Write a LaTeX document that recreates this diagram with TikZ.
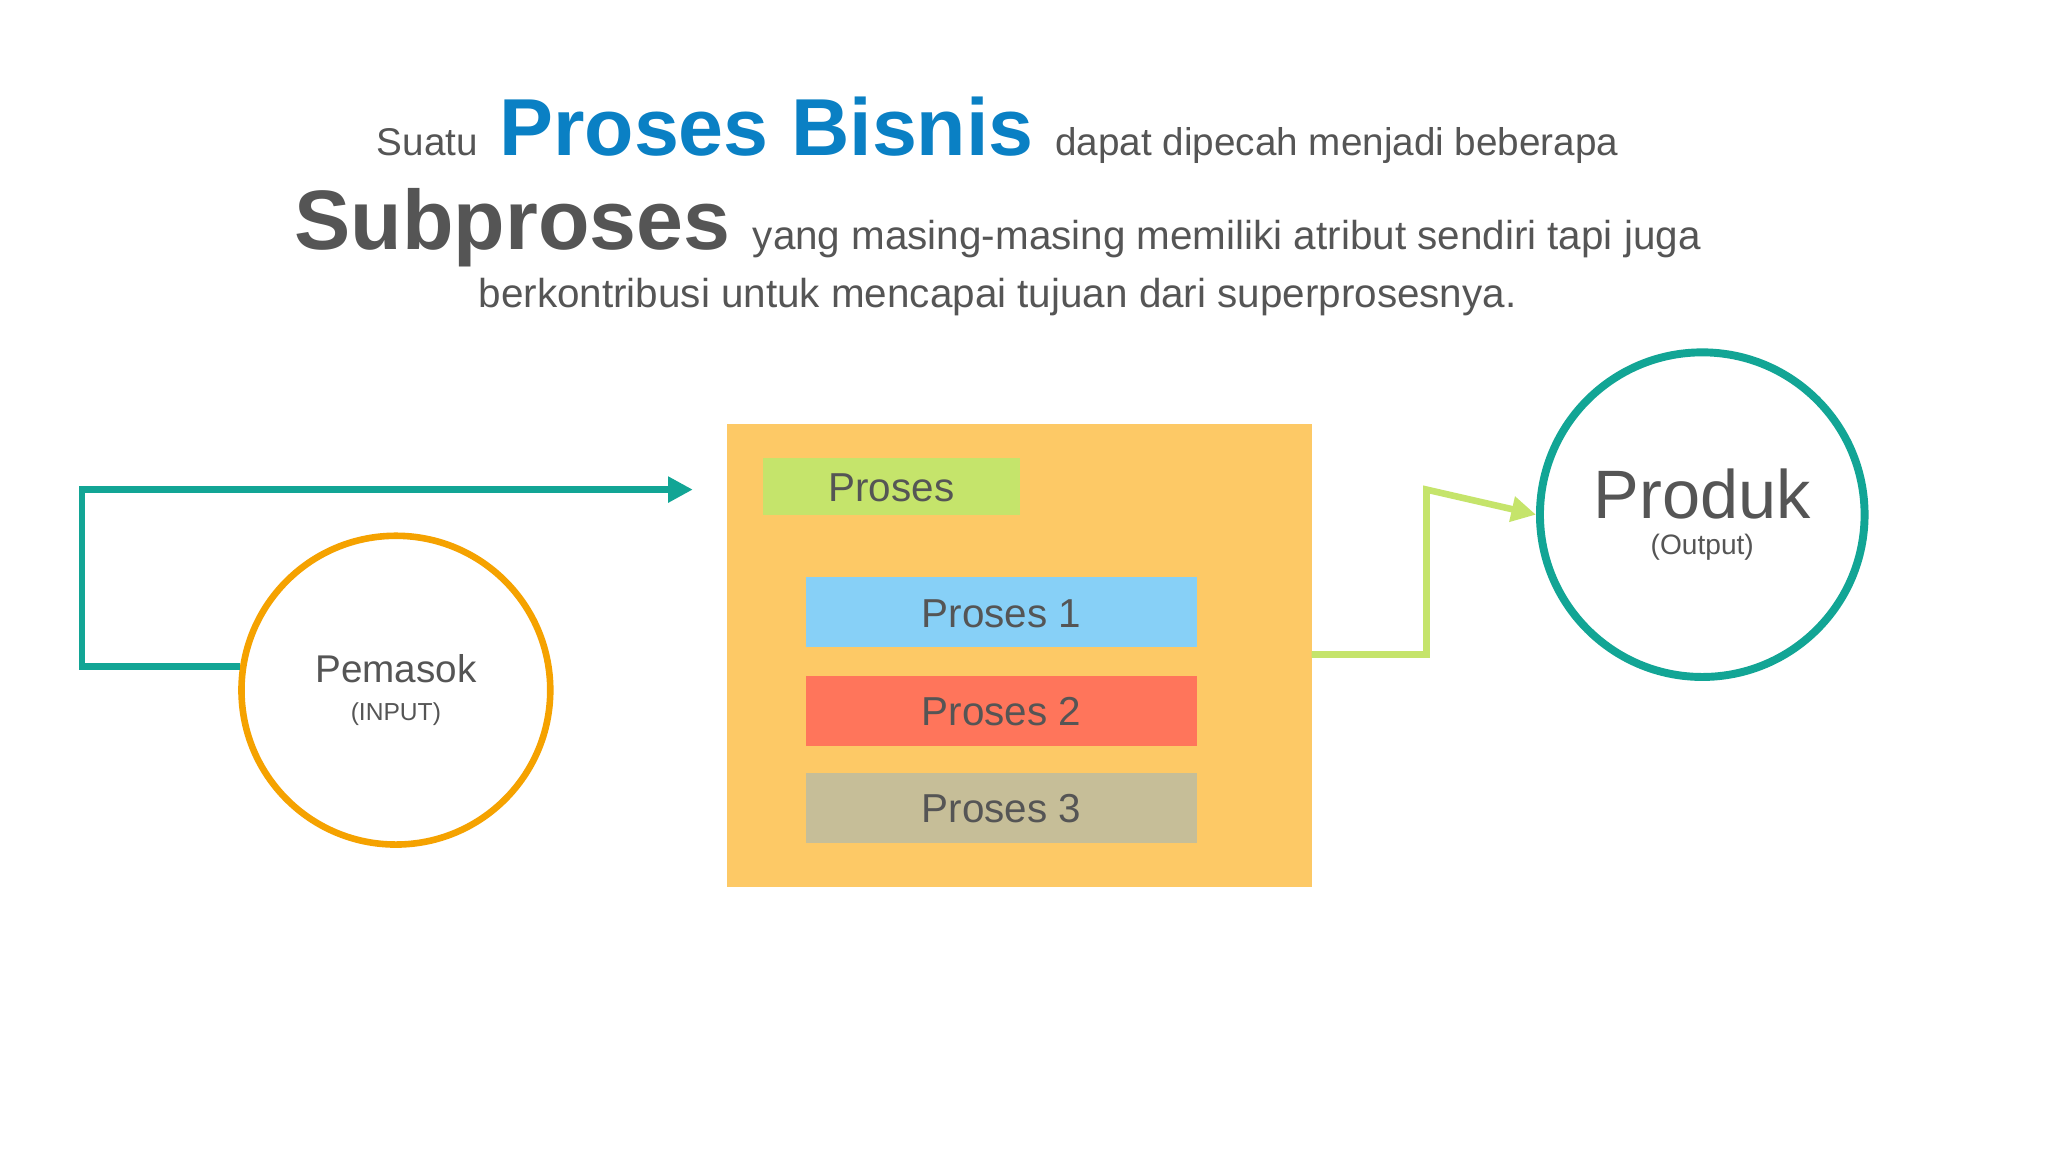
\documentclass[tikz,border=0pt]{standalone}
\usepackage{fontspec}
\setmainfont{Liberation Sans}
\usetikzlibrary{arrows.meta}
\definecolor{txt}{HTML}{555555}
\definecolor{blu}{HTML}{0A80C4}
\definecolor{boxo}{HTML}{FDC966}
\definecolor{grn}{HTML}{C5E46B}
\definecolor{p1}{HTML}{87D0F7}
\definecolor{p2}{HTML}{FF755B}
\definecolor{p3}{HTML}{C6BE98}
\definecolor{org}{HTML}{F5A200}
\definecolor{teal}{HTML}{12A595}
\begin{document}
\begin{tikzpicture}[x=0.013196cm,y=-0.013196cm,
  lbl/.style={text=txt,font=\fontsize{11.5}{13}\selectfont},
  pbox/.style={draw=none,inner sep=0,lbl}]
\useasboundingbox[fill=white] (0,0) rectangle (1552,873);
\node[anchor=base,text=txt,font=\fontsize{11}{13}\selectfont] (l1) at (756,118)
 {Suatu\ \ {\fontsize{23}{26}\selectfont\bfseries\color{blu}Proses Bisnis}\ \ dapat dipecah menjadi beberapa};
\node[anchor=base,text=txt,font=\fontsize{11.5}{13}\selectfont] (l2) at (756,189)
 {{\fontsize{24}{27}\selectfont\bfseries Subproses}\ \ yang masing-masing memiliki atribut sendiri tapi juga};
\node[anchor=base,text=txt,font=\fontsize{11.5}{13}\selectfont] (l3) at (756,233)
 {berkontribusi untuk mencapai tujuan dari superprosesnya.};
\fill[boxo] (551,321) rectangle (994,672);
\coordinate (boxR) at (994,496);
\fill[grn] (578,347) rectangle (773,390);
\node[lbl] (pr) at (675.5,370) {Proses};
\fill[p1] (611,437) rectangle (907,490); \node[lbl] (pr1) at (759,465) {Proses 1};
\fill[p2] (611,512) rectangle (907,565); \node[lbl] (pr2) at (759,539) {Proses 2};
\fill[p3] (611,586) rectangle (907,639); \node[lbl] (pr3) at (759,613) {Proses 3};
\node[circle,draw=org,line width=5*0.013196cm,minimum size=234*0.013196cm,inner sep=0,align=center] (pem) at (300,523)
 {\color{txt}\fontsize{11}{13}\selectfont Pemasok\\[-1pt]\color{txt}\fontsize{7}{9}\selectfont (INPUT)};
\node[circle,draw=teal,line width=6*0.013196cm,minimum size=246*0.013196cm,inner sep=0,align=center] (prod) at (1290,390)
 {\color{txt}\fontsize{19.5}{22}\selectfont Produk\\[-2pt]\color{txt}\fontsize{8}{10}\selectfont (Output)};
\coordinate (tin) at (525,371);
\coordinate (pemL) at (182,505);
\draw[teal,line width=5*0.013196cm,-{Triangle[length=7pt,width=7pt]}] (pemL) -- (62,505) -- (62,371) -- (tin);
\draw[grn,line width=5*0.013196cm,-{Triangle[length=7pt,width=7pt]}] (boxR) -- (1081,496) -- (1081,371) -- (prod.west);
\end{tikzpicture}
\end{document}
